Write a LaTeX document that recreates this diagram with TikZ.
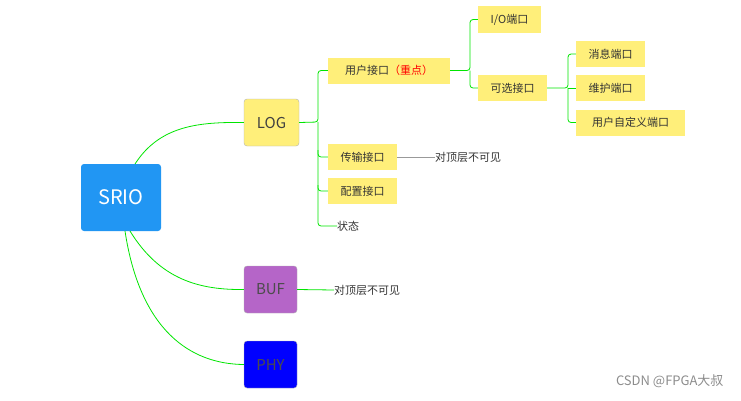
\documentclass[tikz,border=0pt]{standalone}
\usepackage{fontspec}
\setmainfont{Noto Sans CJK SC}
\begin{document}
\begin{tikzpicture}[x=1pt,y=-1pt,
  lk/.style={draw=green!90!black,line width=0.8pt,rounded corners=3pt},
  yb/.style={fill=yellow!55!white,fill=ybox,inner sep=0pt,minimum height=26pt,font=\fontsize{11}{12}\selectfont,text=black!80},
  pl/.style={inner sep=0pt,font=\fontsize{11}{12}\selectfont,text=black!80,anchor=west}]
\definecolor{ybox}{HTML}{FFEF7A}
\useasboundingbox (0,0) rectangle (741,400);
\node[fill={rgb,255:red,33;green,150;blue,243},rounded corners=3pt,minimum width=80pt,minimum height=67pt,text=white,font=\fontsize{20}{22}\selectfont] (srio) at (121,197.5) {SRIO};
\node[fill=ybox,draw=black!30,rounded corners=3pt,minimum width=55pt,minimum height=47pt,font=\fontsize{15}{16}\selectfont,text=black!75] (log) at (271.5,122.5) {LOG};
\node[fill={rgb,255:red,181;green,101;blue,200},draw=black!30,rounded corners=3pt,minimum width=53pt,minimum height=47pt,font=\fontsize{15}{16}\selectfont,text=black!70] (buf) at (270.5,289.5) {BUF};
\node[fill=blue,draw=black!30,rounded corners=3pt,minimum width=53pt,minimum height=47pt,font=\fontsize{15}{16}\selectfont,text=black!70] (phy) at (270.5,364.5) {PHY};
\draw[green!90!black,line width=0.8pt] (135,164) .. controls (160,125) and (200,122) .. (log.west);
\draw[green!90!black,line width=0.8pt] (130,231) .. controls (160,280) and (200,290) .. (buf.west);
\draw[green!90!black,line width=0.8pt] (125,231) .. controls (140,330) and (190,364) .. (phy.west);
% LOG children
\node[yb,minimum width=122pt] (u) at (389,70.5) {用户接口\textcolor{red}{（重点）}};
\node[yb,minimum width=69pt] (t) at (362.5,157) {传输接口};
\node[yb,minimum width=69pt] (c) at (362.5,191) {配置接口};
\node[pl] (s) at (337,226) {状态};
\node[pl] (t2) at (435,157) {对顶层不可见};
\draw[lk] (log.east) -- (318,122) -- (318,70.5) -- (u.west);
\draw[lk] (318,122) -- (318,157) -- (t.west);
\draw[lk] (318,150) -- (318,191) -- (c.west);
\draw[lk] (318,185) -- (318,226) -- (s.west);
\draw[black!40,line width=0.8pt] (t.east) -- (t2.west);
\node[yb,minimum width=63pt,minimum height=27pt] (io) at (509.5,19.5) {I/O端口};
\node[yb,minimum width=69pt] (k) at (512.5,88) {可选接口};
\draw[lk] (u.east) -- (470,70.5) -- (470,19.5) -- (io.west);
\draw[lk] (470,70.5) -- (470,88) -- (k.west);
\node[yb,minimum width=69pt] (m1) at (610.5,54) {消息端口};
\node[yb,minimum width=69pt] (m2) at (610.5,88) {维护端口};
\node[yb,minimum width=109pt] (m3) at (630.5,122.5) {用户自定义端口};
\draw[lk] (k.east) -- (568,88) -- (568,54) -- (m1.west);
\draw[lk] (568,88) -- (m2.west);
\draw[lk] (568,88) -- (568,122.5) -- (m3.west);
\node[pl] (b2) at (334,290) {对顶层不可见};
\draw[green!90!black,line width=0.8pt] (buf.east) -- (b2.west);
\node[anchor=east,text=black!45,font=\fontsize{13}{14}\selectfont] (wm) at (727,381) {CSDN @FPGA大叔};
\end{tikzpicture}
\end{document}
